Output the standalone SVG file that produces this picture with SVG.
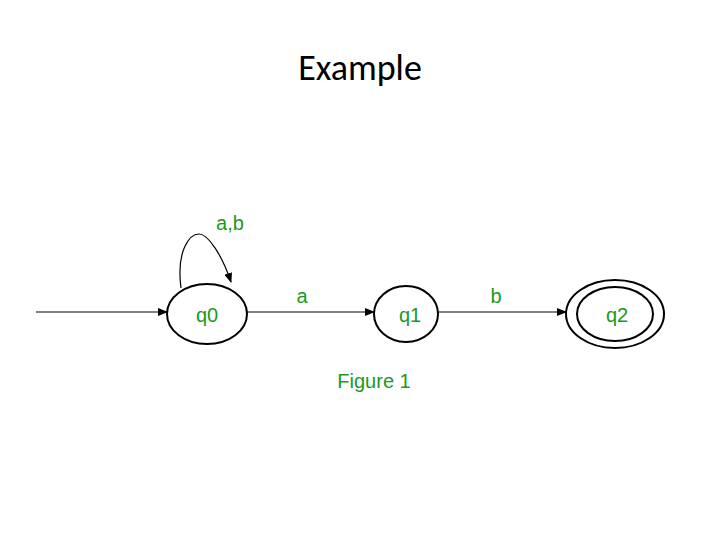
<svg xmlns="http://www.w3.org/2000/svg" width="720" height="540" viewBox="0 0 720 540">
<defs><marker id="ah" markerWidth="10" markerHeight="8" refX="9" refY="4" orient="auto" markerUnits="userSpaceOnUse"><path d="M0,0 L10,4 L0,8 Z" fill="#000"/></marker></defs>
<style>.st{fill:#fff;stroke:#000;stroke-width:2}.lb{font-family:"Liberation Sans",Arial,sans-serif;font-size:20px;fill:#1a9a1a}.ln{fill:none;stroke:#000;stroke-width:1.2}</style>
<rect width="720" height="540" fill="#fff"/>
<text x="360" y="80" text-anchor="middle" font-family="Carlito,'Liberation Sans',sans-serif" font-size="36" fill="#000">Example</text>
<g id="connectors">
<path class="ln" d="M36,312 L167,312" marker-end="url(#ah)"/>
<path class="ln" d="M181,288 C176,250 190,234 199,234 C208,234 222,255 231,282" marker-end="url(#ah)"/>
<path class="ln" d="M247,312 L374,312" marker-end="url(#ah)"/>
<path class="ln" d="M438,312 L566,312" marker-end="url(#ah)"/>
</g>
<g id="q0"><ellipse class="st" cx="207" cy="314" rx="40" ry="30"/><text class="lb" x="207" y="322" text-anchor="middle">q0</text></g>
<g id="q1"><ellipse class="st" cx="406" cy="314" rx="32" ry="28"/><text class="lb" x="410" y="322" text-anchor="middle">q1</text></g>
<g id="q2"><ellipse class="st" cx="615" cy="314" rx="49" ry="34"/><ellipse class="st" cx="615" cy="314" rx="38" ry="27"/><text class="lb" x="617" y="322" text-anchor="middle">q2</text></g>
<text class="lb" x="230" y="230" text-anchor="middle">a,b</text>
<text class="lb" x="302" y="303" text-anchor="middle">a</text>
<text class="lb" x="496" y="303" text-anchor="middle">b</text>
<text class="lb" x="374" y="388" text-anchor="middle">Figure 1</text>
</svg>
